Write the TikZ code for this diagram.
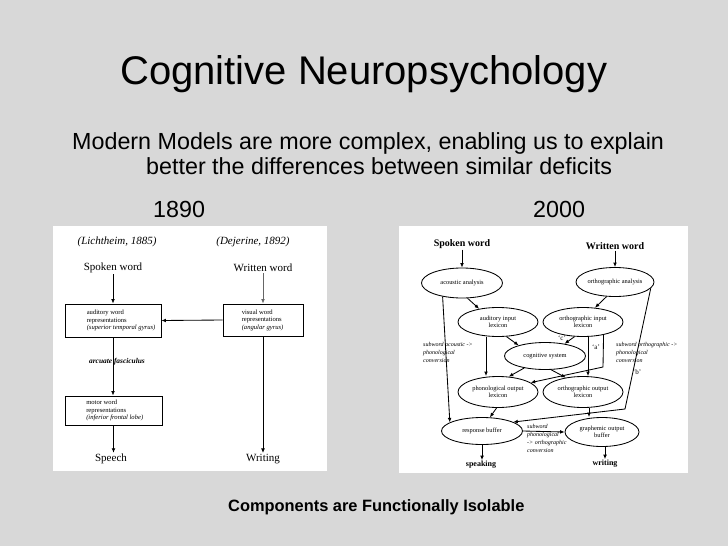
\documentclass[tikz,border=0pt]{standalone}
\usepackage{fontspec}
\setmainfont{Liberation Serif}
\newfontfamily\arialf{Liberation Sans}
\usetikzlibrary{arrows.meta,shapes.geometric,calc}
\definecolor{bggray}{RGB}{216,216,216}
\begin{document}
\begin{tikzpicture}[x=1pt,y=-1pt,
  arr/.style={-{Latex[length=4.5pt,width=3.8pt]}, line width=0.85pt},
  lbox/.style={draw, line width=0.85pt, inner sep=0, rectangle},
  ltxt/.style={font=\fontsize{6.6}{7.5}\selectfont, align=left, inner sep=0, anchor=west},
  ell/.style={draw, ellipse, line width=0.85pt, inner sep=0, font=\fontsize{6.4}{7.5}\selectfont, align=center},
  slide/.style={font=\arialf\fontsize{23.3}{28}\selectfont, inner sep=0, anchor=base west},
  headL/.style={font=\fontsize{11}{13}\selectfont, inner sep=1pt},
  headR/.style={font=\bfseries\fontsize{10}{12}\selectfont, inner sep=1pt},
  outR/.style={font=\bfseries\fontsize{8}{10}\selectfont, inner sep=1pt},
  conv/.style={font=\itshape\fontsize{6}{8}\selectfont, align=left, inner sep=0, anchor=north west},
  route/.style={font=\fontsize{7}{8}\selectfont, inner sep=0}
]
\useasboundingbox (0,0) rectangle (728,546);
\fill[bggray] (0,0) rectangle (728,546);
\fill[white] (53,226) rectangle (327,471);
\fill[white] (399,226) rectangle (688,473);

% slide text
\node[font=\arialf\fontsize{40}{48}\selectfont, inner sep=0, anchor=base west] (title) at (120,84) {Cognitive Neuropsychology};
\node[slide] (sub1) at (72,149) {Modern Models are more complex, enabling us to explain};
\node[slide] (sub2) at (146,174) {better the differences between similar deficits};
\node[slide] (y1890) at (153,217) {1890};
\node[slide] (y2000) at (533,217) {2000};
\node[font=\arialf\bfseries\fontsize{16.4}{20}\selectfont, inner sep=0, anchor=base west] (foot) at (228,511) {Components are Functionally Isolable};

% ---------- left diagram (1890) ----------
\node[headL, font=\itshape\fontsize{11}{13}\selectfont] (lich) at (117,242) {(Lichtheim, 1885)};
\node[headL, font=\itshape\fontsize{11}{13}\selectfont] (dej) at (253,242) {(Dejerine, 1892)};
\node[headL] (spokenL) at (113,268) {Spoken word};
\node[headL] (writtenL) at (263,268) {Written word};
\node[lbox, minimum width=96pt, minimum height=33pt] (aud) at (113,320.5) {};
\node[ltxt] (audt) at ([xshift=22pt]aud.west) {auditory word\\representations\\\textit{(superior temporal gyrus)}};
\node[lbox, minimum width=80pt, minimum height=32pt] (vis) at (263,320) {};
\node[ltxt] (vist) at ([xshift=19pt]vis.west) {visual word\\representations\\\textit{(angular gyrus)}};
\node[lbox, minimum width=97pt, minimum height=29pt] (mot) at (113.5,410.5) {};
\node[ltxt] (mott) at ([xshift=21.5pt]mot.west) {motor word\\representations\\\textit{(inferior frontal lobe)}};
\node[headL] (speech) at (111,459) {Speech};
\node[headL] (writing) at (263,459) {Writing};
\draw[arr] (spokenL) -- (aud);
\draw[arr, draw=gray!80!black] (writtenL) -- (vis);
\draw[arr] (vis.west) -- (aud.east);
\draw[arr] (aud.south) -- (aud.south |- mot.north);
\node[font=\bfseries\itshape\fontsize{7.4}{9}\selectfont, inner sep=0] (arc) at (117,362) {arcuate fasciculus};
\draw[arr] (mot.south) -- (mot.south |- speech.north);
\draw[arr] (vis.south) -- (writing.north);

% ---------- right diagram (2000) ----------
\node[headR] (spokenR) at (462,244) {Spoken word};
\node[headR] (writtenR) at (615,246) {Written word};
\node[ell, minimum width=81pt, minimum height=30pt] (ac) at (462,283) {acoustic analysis};
\node[ell, minimum width=78pt, minimum height=29pt] (oa) at (615,282) {orthographic analysis};
\node[ell, minimum width=80pt, minimum height=29pt] (aui) at (498,322) {auditory input\\lexicon};
\node[ell, minimum width=80pt, minimum height=29pt] (oi) at (583,322) {orthographic input\\lexicon};
\node[ell, minimum width=81pt, minimum height=27pt] (cog) at (545,356) {cognitive system};
\node[ell, minimum width=80pt, minimum height=31pt] (po) at (498,392) {phonological output\\lexicon};
\node[ell, minimum width=80pt, minimum height=31pt] (oo) at (583,392) {orthographic output\\lexicon};
\node[ell, minimum width=81pt, minimum height=27pt] (rb) at (482,431) {response buffer};
\node[ell, minimum width=74pt, minimum height=29pt] (gob) at (602,432) {graphemic output\\buffer};
\node[outR] (speaking) at (481,465) {speaking};
\node[outR] (writingR) at (605,464) {writing};
\coordinate (abend) at (603,367);
\coordinate (bbend) at (625,409);

\draw[arr] (spokenR) -- (ac);
\draw[arr] (writtenR) -- (oa);
\draw[arr] (ac.-70) -- (aui.145);
\draw[arr] (oa.-120) -- (oi.50);
\draw[arr] (ac.-145) -- (rb.165);
\draw[arr] ([xshift=-12pt]aui.south) -- ([xshift=-12pt]po.north);
\draw[arr] (aui.-60) -- (cog.158);
\draw[arr] (oi.-120) -- (cog.32);
\node[route] (lc) at (562,338) {`c'};
\draw[arr] ([xshift=5pt]oi.south) -- ([xshift=5pt]oo.north);
\node[route] (la) at (596,347) {`a'};
\draw[arr] (oi.-32) -- (abend) -- (po.16);
\draw[arr] (cog.-150) -- (po.55);
\draw[arr] (cog.-66) -- (oo.140);
\draw[arr] (oa.-10) -- (bbend) -- (rb.16);
\node[route] (lb) at (637,372) {`b'};
\draw[arr] (po.-95) -- (rb.60);
\draw[arr] ([xshift=6pt]oo.south) -- ([xshift=-13pt]gob.north);
\draw[arr] (rb.east) -- (gob.west);
\draw[arr] (rb.south) -- (rb.south |- speaking.north);
\draw[arr] (gob.south -| writingR.north) -- (writingR.north);
\node[conv] (cac) at (423,342.5) {subword acoustic ->\\phonological\\conversion};
\node[conv] (cor) at (616,342.5) {subword orthographic ->\\phonological\\conversion};
\node[conv] (cpo) at (527,424.5) {subword\\phonological\\-> orthographic\\conversion};
\end{tikzpicture}
\end{document}
